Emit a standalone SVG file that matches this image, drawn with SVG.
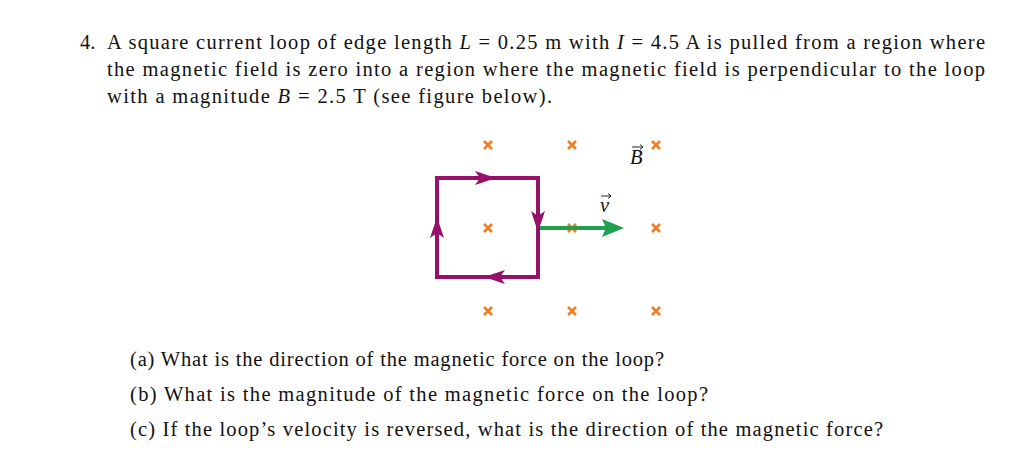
<svg xmlns="http://www.w3.org/2000/svg" width="1024" height="453" viewBox="0 0 1024 453">
<style>
text{font-family:"Liberation Serif",serif;font-size:20.5px;fill:#111}
.x{stroke:#f47c20;stroke-width:2.6}
.loop{fill:none;stroke:#96116a;stroke-width:4}
</style>
<defs>
<path id="cr" d="M-4,-4L4,4M-4,4L4,-4"/>
</defs>
<rect width="1024" height="453" fill="#fff"/>
<g id="text">
<text x="80" y="49">4.</text>
<text x="107" y="49" textLength="878" lengthAdjust="spacing">A square current loop of edge length <tspan font-style="italic">L</tspan> = 0.25 m with <tspan font-style="italic">I</tspan> = 4.5 A is pulled from a region where</text>
<text x="107" y="76" textLength="878" lengthAdjust="spacing">the magnetic field is zero into a region where the magnetic field is perpendicular to the loop</text>
<text x="107" y="103" textLength="445" lengthAdjust="spacing">with a magnitude <tspan font-style="italic">B</tspan> = 2.5 T (see figure below).</text>
<text x="130" y="366" textLength="534" lengthAdjust="spacing">(a)  What is the direction of the magnetic force on the loop?</text>
<text x="130" y="401" textLength="578" lengthAdjust="spacing">(b)  What is the magnitude of the magnetic force on the loop?</text>
<text x="130" y="436" textLength="753" lengthAdjust="spacing">(c)  If the loop’s velocity is reversed, what is the direction of the magnetic force?</text>
</g>
<g id="crosses" class="x">
<use href="#cr" x="488" y="145"/><use href="#cr" x="572" y="145"/><use href="#cr" x="656" y="145"/>
<use href="#cr" x="488" y="228"/><use href="#cr" x="572" y="228"/><use href="#cr" x="656" y="228"/>
<use href="#cr" x="488" y="311"/><use href="#cr" x="572" y="311"/><use href="#cr" x="656" y="311"/>
</g>
<g id="loop">
<rect class="loop" x="437" y="178" width="101" height="99"/>
<path d="M496,178L475,171L480,178L475,185Z" fill="#96116a"/>
<path d="M538,232L531,211L538,216L545,211Z" fill="#96116a"/>
<path d="M484,277L505,270L500,277L505,284Z" fill="#96116a"/>
<path d="M437,217L430,238L437,233L444,238Z" fill="#96116a"/>
</g>
<g id="connectors">
<line x1="540" y1="228" x2="606" y2="228" stroke="#1fa04f" stroke-width="4"/>
<path d="M624,228L602,219L606,228L602,237Z" fill="#1fa04f"/>
</g>
<g id="labels">
<text x="630" y="164" font-style="italic" font-size="21">B</text>
<path d="M632,147L643,147M640,144.5L643,147L640,149.5" fill="none" stroke="#111" stroke-width="0.9"/>
<text x="600" y="212" font-style="italic" font-size="21">v</text>
<path d="M601,196L611,196M608,193.5L611,196L608,198.5" fill="none" stroke="#111" stroke-width="0.9"/>
</g>
</svg>
